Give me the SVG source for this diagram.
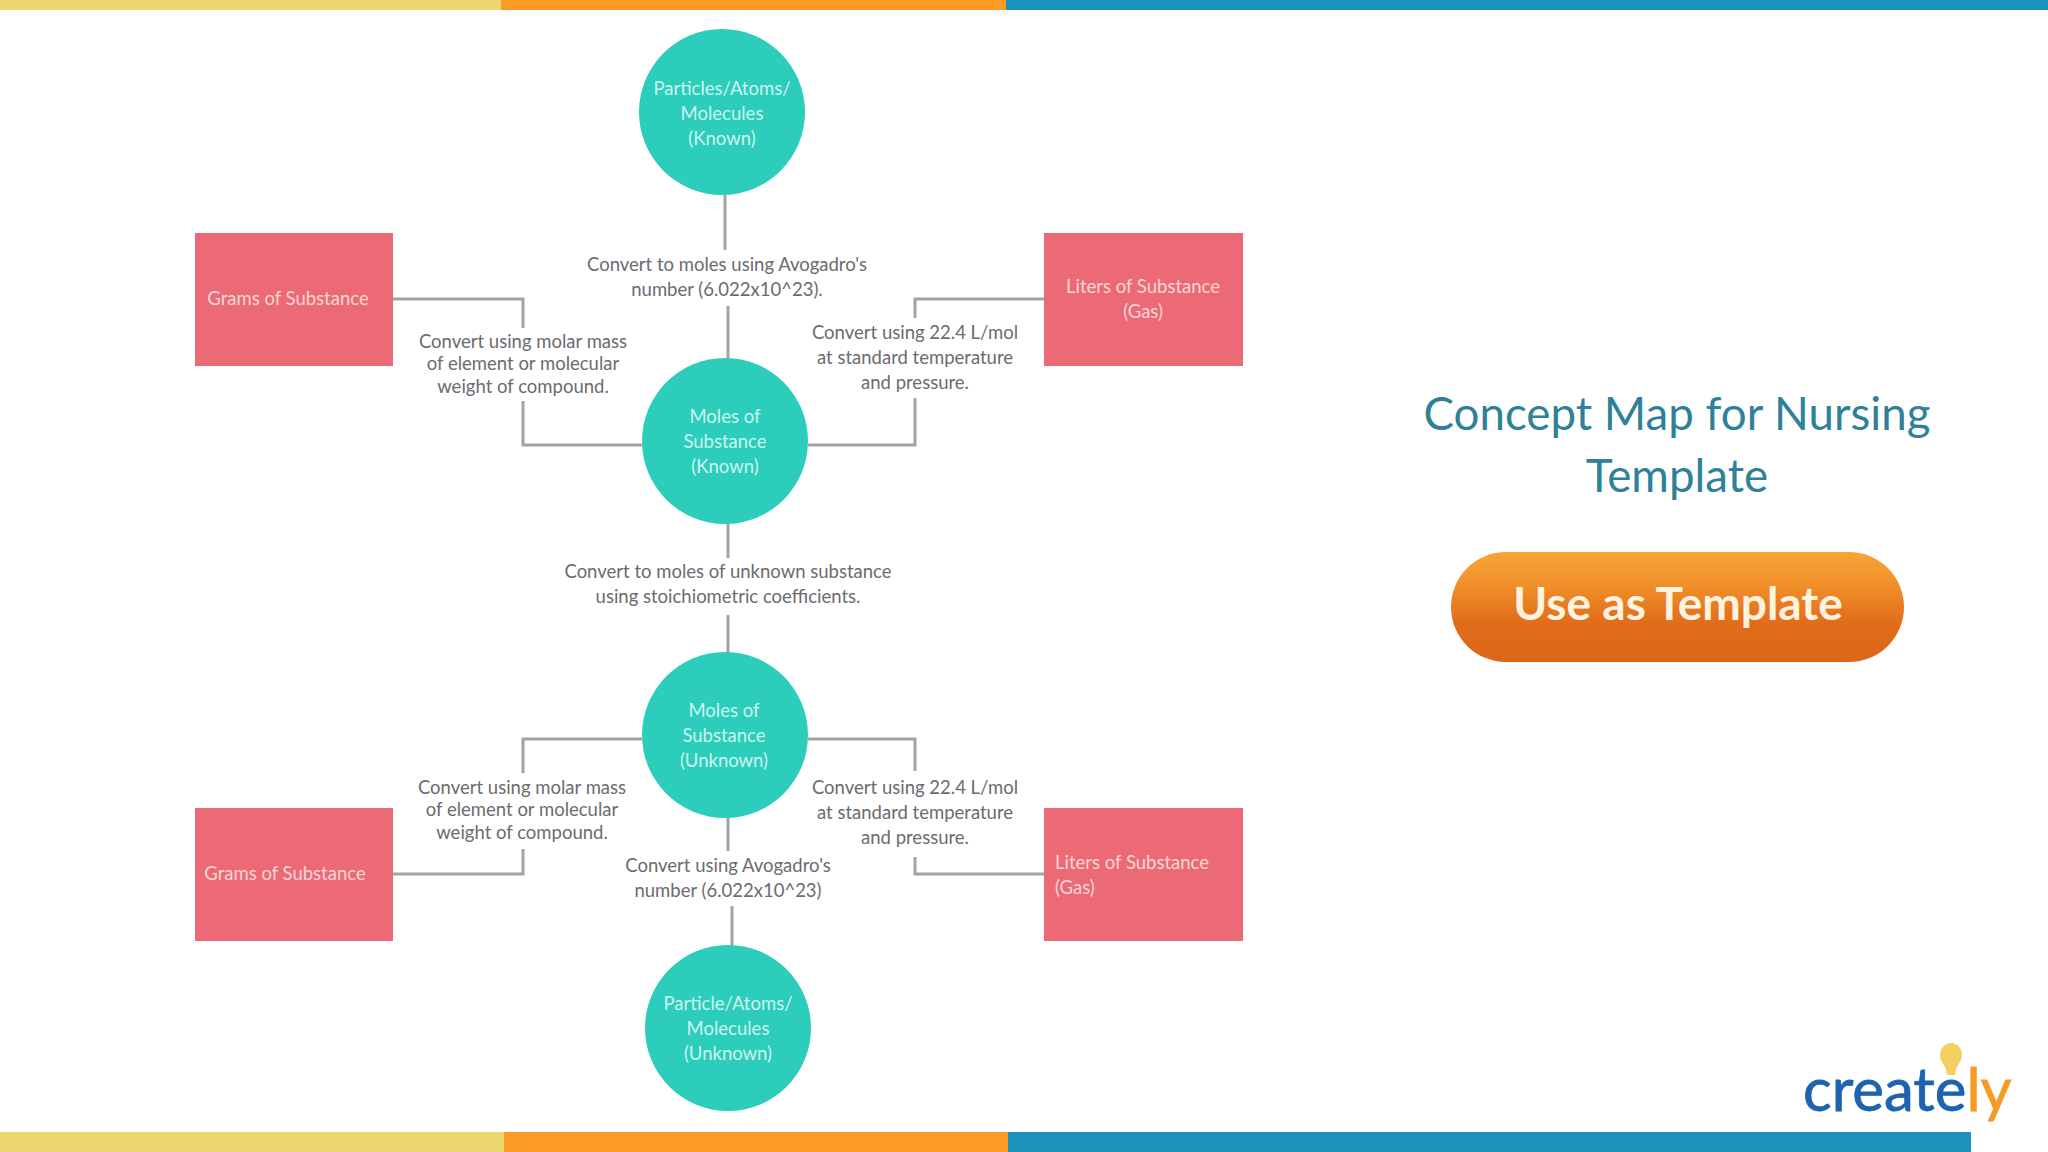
<svg xmlns="http://www.w3.org/2000/svg" width="2048" height="1152" viewBox="0 0 2048 1152">
<defs>
<linearGradient id="btn" x1="0" y1="0" x2="0" y2="1">
<stop offset="0" stop-color="#f7a538"/>
<stop offset="0.3" stop-color="#f09028"/>
<stop offset="0.65" stop-color="#e06c1a"/>
<stop offset="1" stop-color="#dc6618"/>
</linearGradient>
</defs>
<style>
text{font-family:"Lato","Liberation Sans",sans-serif;text-anchor:middle}
.c{fill:#2ccdbb}
.r{fill:#ec6a75}
.ct{font-size:18.5px;fill:#cdf5ef}
.rt{font-size:18.5px;fill:#fcd6d6}
.l{font-size:18.5px;fill:#6b6b70}
.w{fill:none;stroke:#a3a3a6;stroke-width:3}
</style>
<rect width="2048" height="1152" fill="#ffffff"/>
<g id="bars">
<rect x="0" y="0" width="501" height="10" fill="#ecd76e"/>
<rect x="501" y="0" width="505" height="10" fill="#fb9a27"/>
<rect x="1006" y="0" width="1042" height="10" fill="#1b91bb"/>
<rect x="0" y="1132" width="504" height="20" fill="#ecd76e"/>
<rect x="504" y="1132" width="504" height="20" fill="#fb9a27"/>
<rect x="1008" y="1132" width="963" height="20" fill="#1b91bb"/>
</g>
<g id="connectors">
<path class="w" d="M725 195V250"/>
<path class="w" d="M728 306V359"/>
<path class="w" d="M393 299H523V328"/>
<path class="w" d="M523 401V445H642"/>
<path class="w" d="M1044 299H915V318"/>
<path class="w" d="M915 398V445H808"/>
<path class="w" d="M728 524V558"/>
<path class="w" d="M728 615V653"/>
<path class="w" d="M642 739H523V773"/>
<path class="w" d="M523 849V874H393"/>
<path class="w" d="M808 739H915V771"/>
<path class="w" d="M915 857V874H1044"/>
<path class="w" d="M728 818V851"/>
<path class="w" d="M732 906V946"/>
</g>
<g id="node-particles-known"><circle class="c" cx="722" cy="112" r="83"/>
<text class="ct"><tspan x="722" y="95">Particles/Atoms/</tspan><tspan x="722" y="120">Molecules</tspan><tspan x="722" y="145">(Known)</tspan></text></g>
<g id="node-moles-known"><circle class="c" cx="725" cy="441" r="83"/>
<text class="ct"><tspan x="725" y="423">Moles of</tspan><tspan x="725" y="448">Substance</tspan><tspan x="725" y="473">(Known)</tspan></text></g>
<g id="node-moles-unknown"><circle class="c" cx="725" cy="735" r="83"/>
<text class="ct"><tspan x="724" y="717">Moles of</tspan><tspan x="724" y="742">Substance</tspan><tspan x="724" y="767">(Unknown)</tspan></text></g>
<g id="node-particle-unknown"><circle class="c" cx="728" cy="1028" r="83"/>
<text class="ct"><tspan x="728" y="1010">Particle/Atoms/</tspan><tspan x="728" y="1035">Molecules</tspan><tspan x="728" y="1060">(Unknown)</tspan></text></g>
<g id="node-grams-top"><rect class="r" x="195" y="233" width="198" height="133"/>
<text class="rt" x="288" y="305">Grams of Substance</text></g>
<g id="node-liters-top"><rect class="r" x="1044" y="233" width="199" height="133"/>
<text class="rt"><tspan x="1143" y="293">Liters of Substance</tspan><tspan x="1143" y="318">(Gas)</tspan></text></g>
<g id="node-grams-bottom"><rect class="r" x="195" y="808" width="198" height="133"/>
<text class="rt" x="285" y="880">Grams of Substance</text></g>
<g id="node-liters-bottom"><rect class="r" x="1044" y="808" width="199" height="133"/>
<text class="rt" style="text-anchor:start"><tspan x="1055" y="869">Liters of Substance</tspan><tspan x="1055" y="894">(Gas)</tspan></text></g>
<g id="labels">
<text class="l"><tspan x="727" y="271">Convert to moles using Avogadro's</tspan><tspan x="727" y="296">number (6.022x10^23).</tspan></text>
<text class="l"><tspan x="523" y="348">Convert using molar mass</tspan><tspan x="523" y="370">of element or molecular</tspan><tspan x="523" y="393">weight of compound.</tspan></text>
<text class="l"><tspan x="915" y="339">Convert using 22.4 L/mol</tspan><tspan x="915" y="364">at standard temperature</tspan><tspan x="915" y="389">and pressure.</tspan></text>
<text class="l"><tspan x="728" y="578">Convert to moles of unknown substance</tspan><tspan x="728" y="603">using stoichiometric coefficients.</tspan></text>
<text class="l"><tspan x="522" y="794">Convert using molar mass</tspan><tspan x="522" y="816">of element or molecular</tspan><tspan x="522" y="839">weight of compound.</tspan></text>
<text class="l"><tspan x="915" y="794">Convert using 22.4 L/mol</tspan><tspan x="915" y="819">at standard temperature</tspan><tspan x="915" y="844">and pressure.</tspan></text>
<text class="l"><tspan x="728" y="872">Convert using Avogadro's</tspan><tspan x="728" y="897">number (6.022x10^23)</tspan></text>
</g>
<g id="title">
<text font-size="45.7" fill="#2f8199"><tspan x="1677" y="430">Concept Map for Nursing</tspan><tspan x="1677" y="492">Template</tspan></text>
</g>
<g id="button">
<rect x="1451" y="552" width="453" height="110" rx="55" fill="url(#btn)"/>
<text x="1678" y="620" font-size="46" font-weight="700" fill="#fdf3e0">Use as Template</text>
</g>
<g id="logo">
<path d="M1951 1043c-6 0-11 5-11 12 0 6 4 9 6 14l1 6h8l1-6c2-5 6-8 6-14 0-7-5-12-11-12z" fill="#f3d060"/>
<text x="1803" y="1111" font-size="60" fill="#1d63b0" stroke="#1d63b0" stroke-width="0.8" style="text-anchor:start">create<tspan fill="#f59a23" stroke="#f59a23">ly</tspan></text>
</g>
</svg>
